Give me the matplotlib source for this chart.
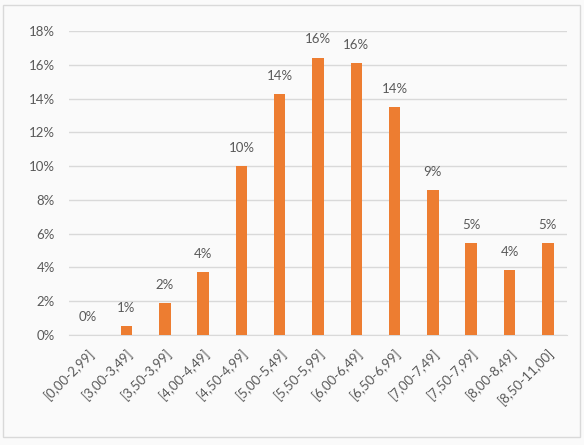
import matplotlib
matplotlib.use("Agg")
import matplotlib.pyplot as plt
from matplotlib.patches import Rectangle
from matplotlib.ticker import FuncFormatter, MultipleLocator

categories = ["[0,00-2,99]", "[3,00-3,49]", "[3,50-3,99]", "[4,00-4,49]", "[4,50-4,99]",
              "[5,00-5,49]", "[5,50-5,99]", "[6,00-6,49]", "[6,50-6,99]", "[7,00-7,49]",
              "[7,50-7,99]", "[8,00-8,49]", "[8,50-11,00]"]
values = [0.0, 0.53, 1.87, 3.75, 10.0, 14.26, 16.43, 16.08, 13.5, 8.58, 5.46, 3.85, 5.46]
labels = ["0%", "1%", "2%", "4%", "10%", "14%", "16%", "16%", "14%", "9%", "5%", "4%", "5%"]

plt.rcParams['font.family'] = ['Lato', 'DejaVu Sans']
text_color = "#595959"
bar_color = "#ED7D31"

fig = plt.figure(figsize=(5.84, 4.45), dpi=100)
fig.patch.set_facecolor("#fafafa")
fig.patches.append(Rectangle((3/584, 1 - 437/445), 577/584, 432/445, transform=fig.transFigure,
                             fill=False, edgecolor="#d9d9d9", linewidth=1.0))

ax = fig.add_axes([69/584, 1 - 335/445, 498/584, 304/445])
ax.set_facecolor("#fafafa")
x = list(range(len(categories)))
ax.bar(x, values, width=0.3, color=bar_color, zorder=3)
ax.set_xlim(-0.5, len(categories) - 0.5)
ax.set_ylim(0, 18)
ax.yaxis.set_major_locator(MultipleLocator(2))
ax.yaxis.set_major_formatter(FuncFormatter(lambda v, p: f"{int(round(v))}%"))
ax.grid(axis='y', color="#d9d9d9", linewidth=1.0, zorder=0)
for s in ["top", "right", "left"]:
    ax.spines[s].set_visible(False)
ax.spines["bottom"].set_color("#d9d9d9")
ax.tick_params(axis='both', length=0, colors=text_color, labelsize=9.5)
ax.tick_params(axis='y', pad=10)
ax.set_xticks(x)
ax.set_xticklabels(categories, rotation=45, ha='right', rotation_mode='anchor')
ax.tick_params(axis='x', pad=8)

for xi, v, lab in zip(x, values, labels):
    ax.annotate(lab, (xi, v), xytext=(0, 13), textcoords='offset points',
                ha='center', va='center', color=text_color, fontsize=9.5)

fig.savefig("out.png", dpi=100, facecolor=fig.get_facecolor())
